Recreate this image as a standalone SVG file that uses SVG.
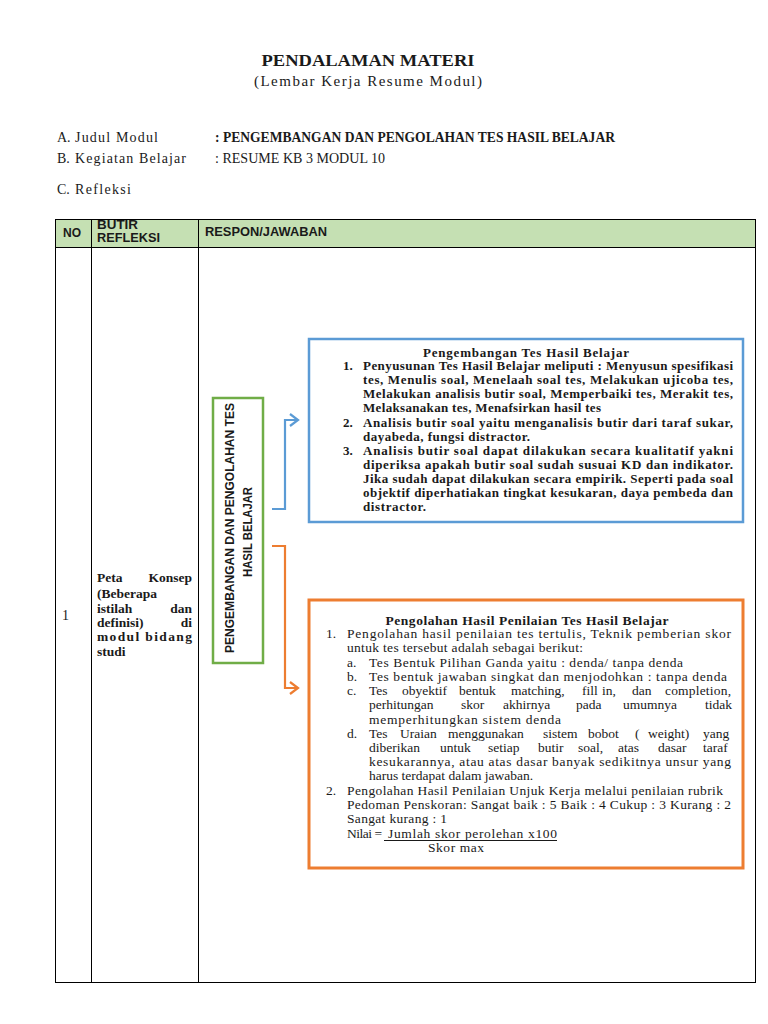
<svg xmlns="http://www.w3.org/2000/svg" width="768" height="1024" viewBox="0 0 768 1024">
<style>
.s{font-family:"Liberation Serif","Times New Roman",serif;fill:#1a1a1a}
.b{font-weight:bold}
.h{font-family:"Liberation Sans",Arial,sans-serif;font-weight:bold;fill:#1a1a1a}
.t13{font-size:14px}
.grid{stroke:#000;stroke-width:1;fill:none}
</style>
<defs>
<marker id="arB" markerUnits="userSpaceOnUse" markerWidth="14" markerHeight="16" refX="10" refY="7" orient="auto" viewBox="0 0 14 14">
<path d="M2,1 L10,7 L2,13" fill="none" stroke="#5b9bd5" stroke-width="2.2"/>
</marker>
<marker id="arO" markerUnits="userSpaceOnUse" markerWidth="14" markerHeight="16" refX="10" refY="7" orient="auto" viewBox="0 0 14 14">
<path d="M2,1 L10,7 L2,13" fill="none" stroke="#ed7d31" stroke-width="2.2"/>
</marker>
</defs>
<rect width="768" height="1024" fill="#fff"/>

<g id="header">
<text class="s b" x="368" y="66" font-size="16" text-anchor="middle" textLength="213" lengthAdjust="spacingAndGlyphs">PENDALAMAN MATERI</text>
<text class="s" x="368" y="86" font-size="15" text-anchor="middle" textLength="228" lengthAdjust="spacing">(Lembar Kerja Resume Modul)</text>
<text class="s t13" x="57" y="142">A.</text>
<text class="s t13" x="75" y="142" textLength="83" lengthAdjust="spacing">Judul Modul</text>
<text class="s t13 b" x="215" y="142" textLength="400" lengthAdjust="spacingAndGlyphs">: PENGEMBANGAN DAN PENGOLAHAN TES HASIL BELAJAR</text>
<text class="s t13" x="57" y="163">B.</text>
<text class="s t13" x="75" y="163" textLength="111" lengthAdjust="spacing">Kegiatan Belajar</text>
<text class="s t13" x="215" y="163" textLength="170" lengthAdjust="spacingAndGlyphs">: RESUME KB 3 MODUL 10</text>
<text class="s t13" x="57" y="194">C.</text>
<text class="s t13" x="75" y="194" textLength="56" lengthAdjust="spacing">Refleksi</text>
</g>

<g id="table">
<rect x="55.5" y="219.5" width="700" height="28" fill="#c5e0b3" stroke="#000"/>
<rect x="55.5" y="219.5" width="700" height="763" class="grid"/>
<line x1="91.5" y1="219.5" x2="91.5" y2="982.5" class="grid"/>
<line x1="198.5" y1="219.5" x2="198.5" y2="982.5" class="grid"/>
<text class="h" x="63" y="237" font-size="12" textLength="18" lengthAdjust="spacingAndGlyphs">NO</text>
<text class="h" x="97" y="229" font-size="12" textLength="41" lengthAdjust="spacingAndGlyphs">BUTIR</text>
<text class="h" x="97" y="242" font-size="12" textLength="63" lengthAdjust="spacingAndGlyphs">REFLEKSI</text>
<text class="h" x="205" y="236" font-size="12" textLength="122" lengthAdjust="spacingAndGlyphs">RESPON/JAWABAN</text>
<text class="s t13" x="62" y="620">1</text>
<g class="s b" font-size="13.5">
<text x="97" y="582">Peta</text><text x="192" y="582" text-anchor="end">Konsep</text>
<text x="97" y="598">(Beberapa</text>
<text x="97" y="613">istilah</text><text x="192" y="613" text-anchor="end">dan</text>
<text x="97" y="627">definisi)</text><text x="192" y="627" text-anchor="end">di</text>
<text x="97" y="641" textLength="95" lengthAdjust="spacing">modul bidang</text>
<text x="97" y="656">studi</text>
</g>
</g>

<g id="node-main">
<rect x="213" y="398" width="50" height="265" fill="#fff" stroke="#70ad47" stroke-width="2.5"/>
<text class="h" font-size="12" transform="translate(234,528) rotate(-90)" text-anchor="middle" textLength="250" lengthAdjust="spacingAndGlyphs">PENGEMBANGAN DAN PENGOLAHAN TES</text>
<text class="h" font-size="12" transform="translate(252,532) rotate(-90)" text-anchor="middle" textLength="90" lengthAdjust="spacingAndGlyphs">HASIL BELAJAR</text>
</g>

<g id="connectors" fill="none" stroke-width="2.2">
<path d="M272,509 H285 V420 H298" stroke="#5b9bd5" marker-end="url(#arB)"/>
<path d="M272,546 H285 V688 H298" stroke="#ed7d31" marker-end="url(#arO)"/>
</g>

<g id="node-pengembangan">
<rect x="309" y="339" width="434" height="183" fill="#fff" stroke="#5b9bd5" stroke-width="2.5"/>
<g class="s b" font-size="13">
<text x="526" y="357" text-anchor="middle" textLength="206" lengthAdjust="spacing">Pengembangan Tes Hasil Belajar</text>
<text x="343" y="370">1.</text>
<text x="363" y="370" textLength="370" lengthAdjust="spacing">Penyusunan Tes Hasil Belajar meliputi : Menyusun spesifikasi</text>
<text x="363" y="384" textLength="370" lengthAdjust="spacing">tes, Menulis soal, Menelaah soal tes, Melakukan ujicoba tes,</text>
<text x="363" y="398" textLength="370" lengthAdjust="spacing">Melakukan analisis butir soal, Memperbaiki tes, Merakit tes,</text>
<text x="363" y="412" textLength="238" lengthAdjust="spacing">Melaksanakan tes, Menafsirkan hasil tes</text>
<text x="343" y="427">2.</text>
<text x="363" y="427" textLength="370" lengthAdjust="spacing">Analisis butir soal yaitu menganalisis butir dari taraf sukar,</text>
<text x="363" y="441" textLength="167" lengthAdjust="spacing">dayabeda, fungsi distractor.</text>
<text x="343" y="455">3.</text>
<text x="363" y="455" textLength="370" lengthAdjust="spacing">Analisis butir soal dapat dilakukan secara kualitatif yakni</text>
<text x="363" y="469" textLength="370" lengthAdjust="spacing">diperiksa apakah butir soal sudah susuai KD dan indikator.</text>
<text x="363" y="483" textLength="370" lengthAdjust="spacing">Jika sudah dapat dilakukan secara empirik. Seperti pada soal</text>
<text x="363" y="497" textLength="370" lengthAdjust="spacing">objektif diperhatiakan tingkat kesukaran, daya pembeda dan</text>
<text x="363" y="511" textLength="63" lengthAdjust="spacing">distractor.</text>
</g>
</g>

<g id="node-pengolahan">
<rect x="309" y="600" width="434" height="268" fill="#fff" stroke="#ed7d31" stroke-width="3"/>
<g class="s" font-size="13.5">
<text class="b" x="527" y="625" text-anchor="middle" textLength="283" lengthAdjust="spacing">Pengolahan Hasil Penilaian Tes Hasil Belajar</text>
<text x="326" y="638">1.</text>
<text x="347" y="638" textLength="384" lengthAdjust="spacing">Pengolahan hasil penilaian tes tertulis, Teknik pemberian skor</text>
<text x="347" y="652" textLength="236" lengthAdjust="spacing">untuk tes tersebut adalah sebagai berikut:</text>
<text x="347" y="667">a.</text>
<text x="369" y="667" textLength="314" lengthAdjust="spacing">Tes Bentuk Pilihan Ganda yaitu : denda/ tanpa denda</text>
<text x="347" y="681">b.</text>
<text x="369" y="681" textLength="358" lengthAdjust="spacing">Tes bentuk jawaban singkat dan menjodohkan : tanpa denda</text>
<text x="347" y="695">c.</text>
<text y="695"><tspan x="369">Tes</tspan><tspan x="402">obyektif</tspan><tspan x="459">bentuk</tspan><tspan x="511">matching,</tspan><tspan x="582">fill</tspan><tspan x="602">in,</tspan><tspan x="632">dan</tspan><tspan x="665" textLength="66" lengthAdjust="spacing">completion,</tspan></text>
<text y="709"><tspan x="369">perhitungan</tspan><tspan x="461">skor</tspan><tspan x="503">akhirnya</tspan><tspan x="576">pada</tspan><tspan x="623">umumnya</tspan><tspan x="705">tidak</tspan></text>
<text x="369" y="724" textLength="192" lengthAdjust="spacing">memperhitungkan sistem denda</text>
<text x="347" y="738">d.</text>
<text y="738"><tspan x="369">Tes</tspan><tspan x="400">Uraian</tspan><tspan x="448">menggunakan</tspan><tspan x="543">sistem</tspan><tspan x="588">bobot</tspan><tspan x="635">(</tspan><tspan x="648">weight)</tspan><tspan x="703">yang</tspan></text>
<text y="752"><tspan x="369">diberikan</tspan><tspan x="440">untuk</tspan><tspan x="488">setiap</tspan><tspan x="538">butir</tspan><tspan x="578">soal,</tspan><tspan x="618">atas</tspan><tspan x="658">dasar</tspan><tspan x="703">taraf</tspan></text>
<text x="369" y="766" textLength="362" lengthAdjust="spacing">kesukarannya, atau atas dasar banyak sedikitnya unsur yang</text>
<text x="369" y="780">harus terdapat dalam jawaban.</text>
<text x="326" y="795">2.</text>
<text x="347" y="795" textLength="376" lengthAdjust="spacing">Pengolahan Hasil Penilaian Unjuk Kerja melalui penilaian rubrik</text>
<text x="347" y="809" textLength="384" lengthAdjust="spacing">Pedoman Penskoran: Sangat baik : 5 Baik : 4 Cukup : 3 Kurang : 2</text>
<text x="347" y="823" textLength="100" lengthAdjust="spacing">Sangat kurang : 1</text>
<text x="347" y="838" textLength="35" lengthAdjust="spacing">Nilai =</text>
<text x="388" y="838" textLength="169" lengthAdjust="spacing">Jumlah skor perolehan  x100</text>
<line x1="384" y1="840.5" x2="557" y2="840.5" stroke="#1a1a1a" stroke-width="1"/>
<text x="428" y="852" textLength="56" lengthAdjust="spacing">Skor max</text>
</g>
</g>
</svg>
